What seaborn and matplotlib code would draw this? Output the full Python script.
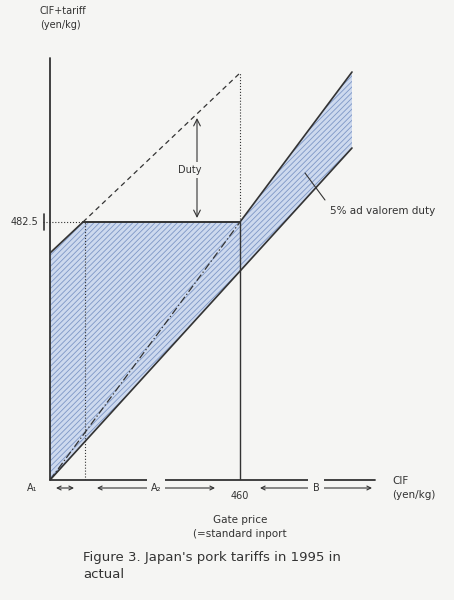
import matplotlib
matplotlib.use("Agg")
import matplotlib.pyplot as plt
import seaborn as sns
from matplotlib.patches import Polygon

sns.set_theme(style="white")
plt.rcParams['font.family'] = ['DejaVu Sans']
plt.rcParams['hatch.linewidth'] = 0.6

# diagram geometry (schematic units)
gate_x = 190
tariff_y = 258
a1_x = 33
left_line_x = [0, 33]
left_line_y = [227, 258]
upper_x = [190, 302]
upper_y = [258, 408]
lower_x = [0, 302]
lower_y = [0, 332]
dashed_x = [33, 190]
dashed_y = [258, 407]
tick_labels = ["482.5", "460"]

fig = plt.figure(figsize=(4.54, 6), dpi=100, facecolor="#f5f5f3")
ax = fig.add_axes([50/454, 120/600, 330/454, 440/600])
ax.set_facecolor("#f5f5f3")
ax.set_xlim(0, 330)
ax.set_ylim(0, 440)
ax.axis("off")

lc = "#333333"
poly = Polygon([(0, 0), (left_line_x[0], left_line_y[0]), (a1_x, tariff_y), (gate_x, tariff_y),
                (upper_x[1], upper_y[1]), (lower_x[1], lower_y[1])],
               closed=True, facecolor="#cdd9ee", edgecolor="#7d96c6", hatch="//////", lw=0)
ax.add_patch(poly)
sns.lineplot(x=left_line_x, y=left_line_y, ax=ax, color=lc, lw=1.2)
sns.lineplot(x=[a1_x, gate_x], y=[tariff_y, tariff_y], ax=ax, color=lc, lw=1.4)
sns.lineplot(x=upper_x, y=upper_y, ax=ax, color=lc, lw=1.2)
sns.lineplot(x=lower_x, y=lower_y, ax=ax, color=lc, lw=1.2)
ax.plot(dashed_x, dashed_y, color=lc, lw=0.9, ls=(0, (4, 3)))
ax.plot([0, gate_x], [0, tariff_y], color=lc, lw=0.9, ls=(0, (6, 2, 1, 2)))
ax.plot([gate_x, gate_x], [tariff_y, dashed_y[1]], color=lc, lw=0.8, ls=":")
ax.plot([35, 35], [0, tariff_y], color=lc, lw=0.8, ls=":")
ax.plot([-7, a1_x], [tariff_y, tariff_y], color=lc, lw=0.8, ls=":", clip_on=False)
ax.plot([gate_x, gate_x], [0, tariff_y], color=lc, lw=1.0)
# axes
ax.plot([0, 0], [0, 422], color=lc, lw=1.3, clip_on=False)
ax.plot([0, 325], [0, 0], color=lc, lw=1.3, clip_on=False)
ax.plot([-6, -6], [250, 266], color=lc, lw=1.2, clip_on=False)

tc = "#333333"
fs = 7
ax.text(-10, 462, "CIF+tariff\n(yen/kg)", fontsize=fs, color=tc, ha="left", va="center", linespacing=1.5)
ax.text(-12, tariff_y, tick_labels[0], fontsize=fs, color=tc, ha="right", va="center")
ax.text(gate_x, -16, tick_labels[1], fontsize=fs, color=tc, ha="center", va="center")
ax.text(342, -8, "CIF\n(yen/kg)", fontsize=fs + 0.5, color=tc, ha="left", va="center", linespacing=1.4)
ax.text(gate_x, -47, "Gate price\n(=standard inport", fontsize=fs + 0.5, color=tc, ha="center", va="center", linespacing=1.4)
ax.text(-18, -8, "A\u2081", fontsize=fs, color=tc, ha="center", va="center")

arr = dict(arrowstyle="<->", color=tc, lw=0.8, shrinkA=0, shrinkB=0, mutation_scale=7)
ax.annotate("", xy=(6, -8), xytext=(24, -8), arrowprops=arr, annotation_clip=False)
ax.annotate("", xy=(47, -8), xytext=(165, -8), arrowprops=arr, annotation_clip=False)
ax.text(106, -8, "A\u2082", fontsize=fs, color=tc, ha="center", va="center",
        bbox=dict(facecolor="#f5f5f3", edgecolor="none", pad=3))
ax.annotate("", xy=(210, -8), xytext=(322, -8), arrowprops=arr, annotation_clip=False)
ax.text(266, -8, "B", fontsize=fs, color=tc, ha="center", va="center",
        bbox=dict(facecolor="#f5f5f3", edgecolor="none", pad=3))

ax.annotate("", xy=(147, 362), xytext=(147, 262), arrowprops=dict(arrowstyle="<->", color=tc, lw=0.8, shrinkA=0, shrinkB=0))
ax.text(140, 310, "Duty", fontsize=fs, color=tc, ha="center", va="center",
        bbox=dict(facecolor="#f5f5f3", edgecolor="none", pad=2))
ax.plot([255, 275], [307, 280], color=lc, lw=0.8)
ax.text(280, 269, "5% ad valorem duty", fontsize=fs + 0.5, color=tc, ha="left", va="center")

fig.text(83/454, 1 - 566/600, "Figure 3. Japan's pork tariffs in 1995 in\nactual", fontsize=9.5,
         color=tc, ha="left", va="center", linespacing=1.4)
fig.savefig("out.png", dpi=100, facecolor=fig.get_facecolor())
